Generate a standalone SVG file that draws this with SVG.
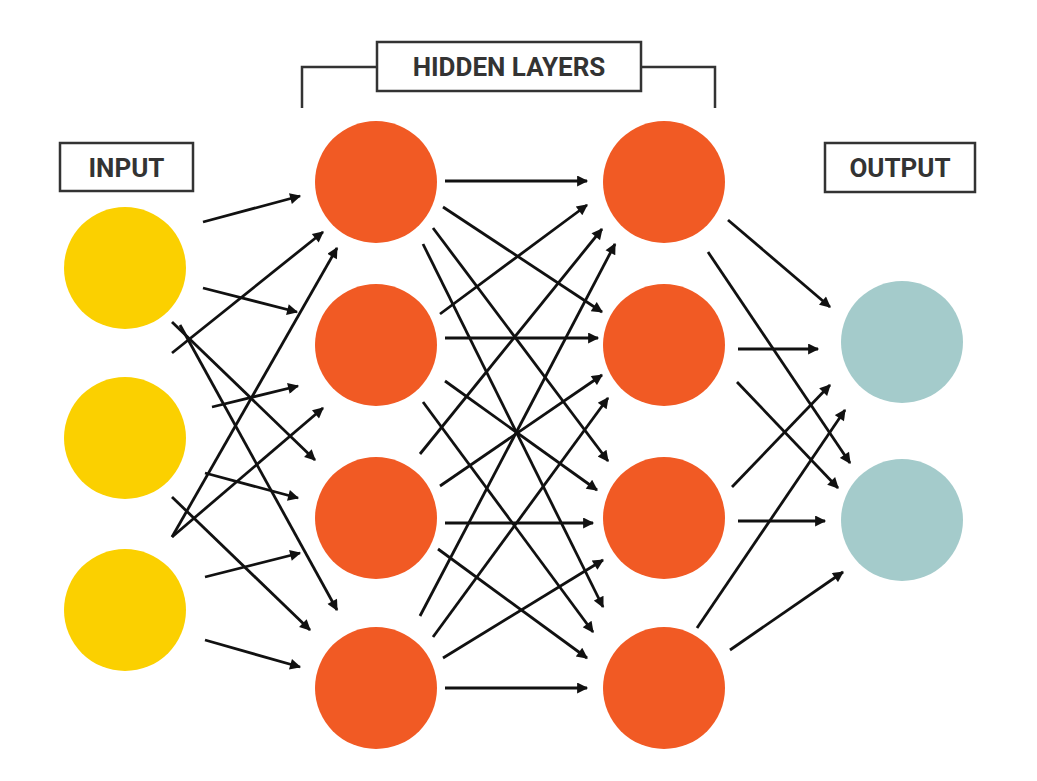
<svg xmlns="http://www.w3.org/2000/svg" width="1037" height="781" viewBox="0 0 1037 781">
<style>
.in{fill:#FBD000}.hid{fill:#F15A24}.out{fill:#A4CBCB}
.c line{stroke:#111;stroke-width:2.8;marker-end:url(#a)}
.box{fill:#fff;stroke:#333;stroke-width:2.5}
.br{fill:none;stroke:#333;stroke-width:2.5}
.t{font-family:Roboto,"DejaVu Sans",sans-serif;font-weight:bold;font-size:26px;fill:#333;text-anchor:middle}
</style>
<defs><marker id="a" viewBox="0 0 10 10" refX="9" refY="5" markerWidth="13" markerHeight="11" orient="auto" markerUnits="userSpaceOnUse"><path d="M0,0L10,5L0,10z" fill="#111"/></marker></defs>
<rect width="1037" height="781" fill="#fff"/>
<g id="label-input"><rect class="box" x="60" y="143" width="133" height="48"/><text class="t" x="126.5" y="177">INPUT</text></g>
<g id="label-hidden"><path class="br" d="M302,108V67H377M641,67H715V108"/><rect class="box" x="377" y="42" width="264" height="49"/><text class="t" x="509" y="76">HIDDEN LAYERS</text></g>
<g id="label-output"><rect class="box" x="825" y="143" width="150" height="49"/><text class="t" x="900" y="177">OUTPUT</text></g>
<g id="i1"><circle class="in" cx="125" cy="268" r="61"/></g>
<g id="i2"><circle class="in" cx="125" cy="438" r="61"/></g>
<g id="i3"><circle class="in" cx="125" cy="610" r="61"/></g>
<g id="h11"><circle class="hid" cx="376" cy="182" r="61"/></g>
<g id="h12"><circle class="hid" cx="376" cy="345" r="61"/></g>
<g id="h13"><circle class="hid" cx="376" cy="518" r="61"/></g>
<g id="h14"><circle class="hid" cx="376" cy="688" r="61"/></g>
<g id="h21"><circle class="hid" cx="664" cy="182" r="61"/></g>
<g id="h22"><circle class="hid" cx="664" cy="345" r="61"/></g>
<g id="h23"><circle class="hid" cx="664" cy="518" r="61"/></g>
<g id="h24"><circle class="hid" cx="664" cy="688" r="61"/></g>
<g id="o1"><circle class="out" cx="902" cy="342" r="61"/></g>
<g id="o2"><circle class="out" cx="902" cy="520" r="61"/></g>
<g class="c" id="connectors">
<line x1="203" y1="222" x2="300" y2="196"/>
<line x1="172" y1="353" x2="323" y2="232"/>
<line x1="172" y1="537" x2="337" y2="248"/>
<line x1="203" y1="288" x2="297" y2="312"/>
<line x1="172" y1="322" x2="315" y2="460"/>
<line x1="180" y1="325" x2="337" y2="610"/>
<line x1="212" y1="407" x2="298" y2="386"/>
<line x1="172" y1="537" x2="323" y2="408"/>
<line x1="205" y1="473" x2="298" y2="498"/>
<line x1="172" y1="497" x2="310" y2="630"/>
<line x1="205" y1="577" x2="300" y2="553"/>
<line x1="205" y1="640" x2="300" y2="667"/>
<line x1="445" y1="181" x2="587" y2="181"/>
<line x1="443" y1="207" x2="602" y2="312"/>
<line x1="433" y1="228" x2="608" y2="461"/>
<line x1="423" y1="244" x2="603" y2="607"/>
<line x1="440" y1="314" x2="587" y2="205"/>
<line x1="445" y1="338" x2="598" y2="338"/>
<line x1="420" y1="454" x2="602" y2="229"/>
<line x1="445" y1="381" x2="597" y2="490"/>
<line x1="423" y1="402" x2="593" y2="632"/>
<line x1="440" y1="486" x2="602" y2="375"/>
<line x1="445" y1="523" x2="593" y2="523"/>
<line x1="438" y1="549" x2="587" y2="658"/>
<line x1="420" y1="616" x2="615" y2="244"/>
<line x1="433" y1="637" x2="608" y2="398"/>
<line x1="443" y1="658" x2="603" y2="560"/>
<line x1="445" y1="688" x2="587" y2="688"/>
<line x1="728" y1="220" x2="830" y2="307"/>
<line x1="708" y1="252" x2="850" y2="463"/>
<line x1="738" y1="349" x2="818" y2="349"/>
<line x1="737" y1="382" x2="838" y2="488"/>
<line x1="732" y1="487" x2="830" y2="385"/>
<line x1="738" y1="521" x2="825" y2="521"/>
<line x1="697" y1="628" x2="845" y2="410"/>
<line x1="730" y1="650" x2="843" y2="572"/>
</g>
</svg>
